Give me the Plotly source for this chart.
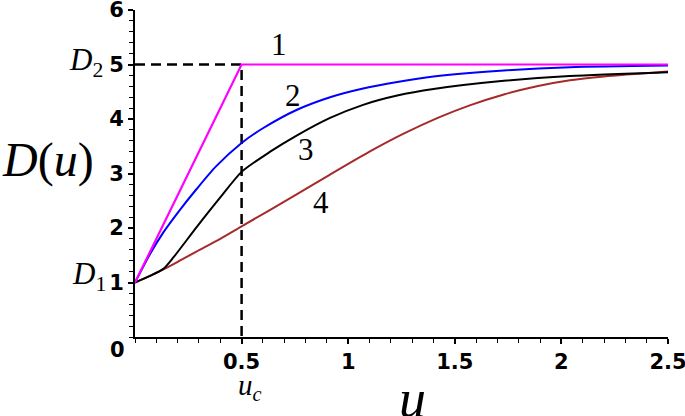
import plotly.graph_objects as go

# ---- data ----
u1 = [0.0, 0.5, 2.5]
d1 = [1.0, 5.0, 5.0]

u2 = [0.0, 0.07, 0.133, 0.21, 0.29, 0.38, 0.5, 0.6, 0.76, 0.915, 1.07, 1.23, 1.4, 1.73, 2.04, 2.5]
d2 = [1.0, 1.52, 1.92, 2.33, 2.72, 3.13, 3.56, 3.83, 4.17, 4.40, 4.56, 4.68, 4.78, 4.89, 4.95, 4.98]

u3 = [0.0, 0.07, 0.133, 0.18, 0.29, 0.4, 0.5, 0.634, 0.76, 0.915, 1.07, 1.23, 1.4, 1.73, 2.04, 2.5]
d3 = [1.0, 1.12, 1.25, 1.46, 2.02, 2.56, 3.03, 3.40, 3.70, 4.02, 4.26, 4.43, 4.55, 4.70, 4.79, 4.86]

u4 = [0.0, 0.07, 0.133, 0.21, 0.29, 0.4, 0.5, 0.76, 0.915, 1.1, 1.26, 1.42, 1.57, 1.73, 1.885, 2.04, 2.2, 2.5]
d4 = [1.0, 1.12, 1.24, 1.40, 1.57, 1.80, 2.03, 2.62, 2.98, 3.40, 3.73, 4.02, 4.25, 4.45, 4.60, 4.71, 4.78, 4.87]

u_c = 0.5
D1 = 1.0
D2 = 5.0

x_ticks = [0.5, 1, 1.5, 2, 2.5]
x_tick_text = ["0.5", "1", "1.5", "2", "2.5"]
y_ticks = [1, 2, 3, 4, 5, 6]
y_tick_text = ["1", "2", "3", "4", "5", "6"]

curve_labels = ["1", "2", "3", "4"]
label_pos_u = [0.676, 0.742, 0.803, 0.874]
label_pos_d = [5.37, 4.43, 3.44, 2.47]

colors = ["#FF00FF", "#0000FF", "#000000", "#A52A2A"]

fig = go.Figure()

# dashed guide lines
fig.add_trace(go.Scatter(x=[0, u_c, u_c], y=[D2, D2, 0], mode="lines",
                         line=dict(color="black", width=2.5, dash="10px,6px"),
                         hoverinfo="skip", showlegend=False))

spl = dict(width=2, shape="spline", smoothing=0.7)
fig.add_trace(go.Scatter(x=u4, y=d4, mode="lines", line=dict(color=colors[3], **spl), showlegend=False))
fig.add_trace(go.Scatter(x=u3, y=d3, mode="lines", line=dict(color=colors[2], **spl), showlegend=False))
fig.add_trace(go.Scatter(x=u2, y=d2, mode="lines", line=dict(color=colors[1], **spl), showlegend=False))
fig.add_trace(go.Scatter(x=u1, y=d1, mode="lines", line=dict(color=colors[0], width=2.2), showlegend=False))

tickfont = dict(family="DejaVu Sans", size=21, color="black", weight="bold")

fig.update_xaxes(range=[0, 2.5], showline=True, linecolor="black", linewidth=2,
                 ticks="outside", ticklen=5, tickwidth=1.5, tickcolor="black",
                 tickvals=x_ticks, ticktext=x_tick_text, tickfont=tickfont,
                 ticklabelstandoff=0, automargin=False, ticklabeloverflow="allow",
                 showgrid=False, zeroline=False,
                 minor=dict(dtick=0.1, tick0=0, ticks="outside", ticklen=4, tickwidth=1.2, tickcolor="black", showgrid=False))
fig.update_yaxes(range=[0, 6], showline=True, linecolor="black", linewidth=2,
                 ticks="outside", ticklen=5, tickwidth=1.5, tickcolor="black",
                 tickvals=y_ticks, ticktext=y_tick_text, tickfont=tickfont,
                 automargin=False, ticklabeloverflow="allow",
                 showgrid=False, zeroline=False,
                 minor=dict(dtick=0.2, tick0=0, ticks="outside", ticklen=4, tickwidth=1.2, tickcolor="black", showgrid=False))

W, H = 685, 416
ml, mr, mt, mb = 135, 17, 10, 79
pw, ph = W - ml - mr, H - mt - mb


def px(x, y):
    return (x - ml) / pw, (H - y - mb) / ph


serif = "Liberation Serif"
ann = []
# origin "0"
x0, y0 = px(117, 350)
ann.append(dict(x=x0, y=y0, xref="paper", yref="paper", text="0", showarrow=False,
                xanchor="center", yanchor="middle",
                font=dict(family="DejaVu Sans", size=21, color="black", weight="bold")))
# curve labels
for t, xu, yd in zip(curve_labels, label_pos_u, label_pos_d):
    ann.append(dict(x=xu, y=yd, xref="x", yref="y", text=t, showarrow=False,
                    font=dict(family=serif, size=31, color="black")))
# D2, D1
ann.append(dict(x=0, y=D2, xref="x", yref="y", text="<i>D</i><sub>2</sub>", showarrow=False,
                xanchor="right", xshift=-30, yshift=3, font=dict(family=serif, size=31, color="black")))
ann.append(dict(x=0, y=D1, xref="x", yref="y", text="<i>D</i><sub>1</sub>", showarrow=False,
                xanchor="right", xshift=-27, yshift=7, font=dict(family=serif, size=31, color="black")))
# u_c
ann.append(dict(x=u_c, y=0, xref="x", yref="y", text="<i>u</i><sub><i>c</i></sub>", showarrow=False,
                yanchor="top", xshift=8, yshift=-30, font=dict(family=serif, size=29, color="black")))
# axis titles
xd, yd_ = px(48, 160)
ann.append(dict(x=xd, y=yd_, xref="paper", yref="paper", text="<i>D</i>(<i>u</i>)", showarrow=False,
                xanchor="center", yanchor="middle",
                font=dict(family=serif, size=48, color="black")))
ann.append(dict(x=1.0, y=0, xref="x", yref="y", text="<i>u</i>", showarrow=False,
                xshift=64, yshift=-62, font=dict(family=serif, size=54, color="black")))

fig.update_layout(width=W, height=H, margin=dict(l=ml, r=mr, t=mt, b=mb),
                  plot_bgcolor="white", paper_bgcolor="white",
                  annotations=ann, showlegend=False)

fig.write_html("out.html", config={"displayModeBar": False},
               post_script="document.body.style.margin='0';")
